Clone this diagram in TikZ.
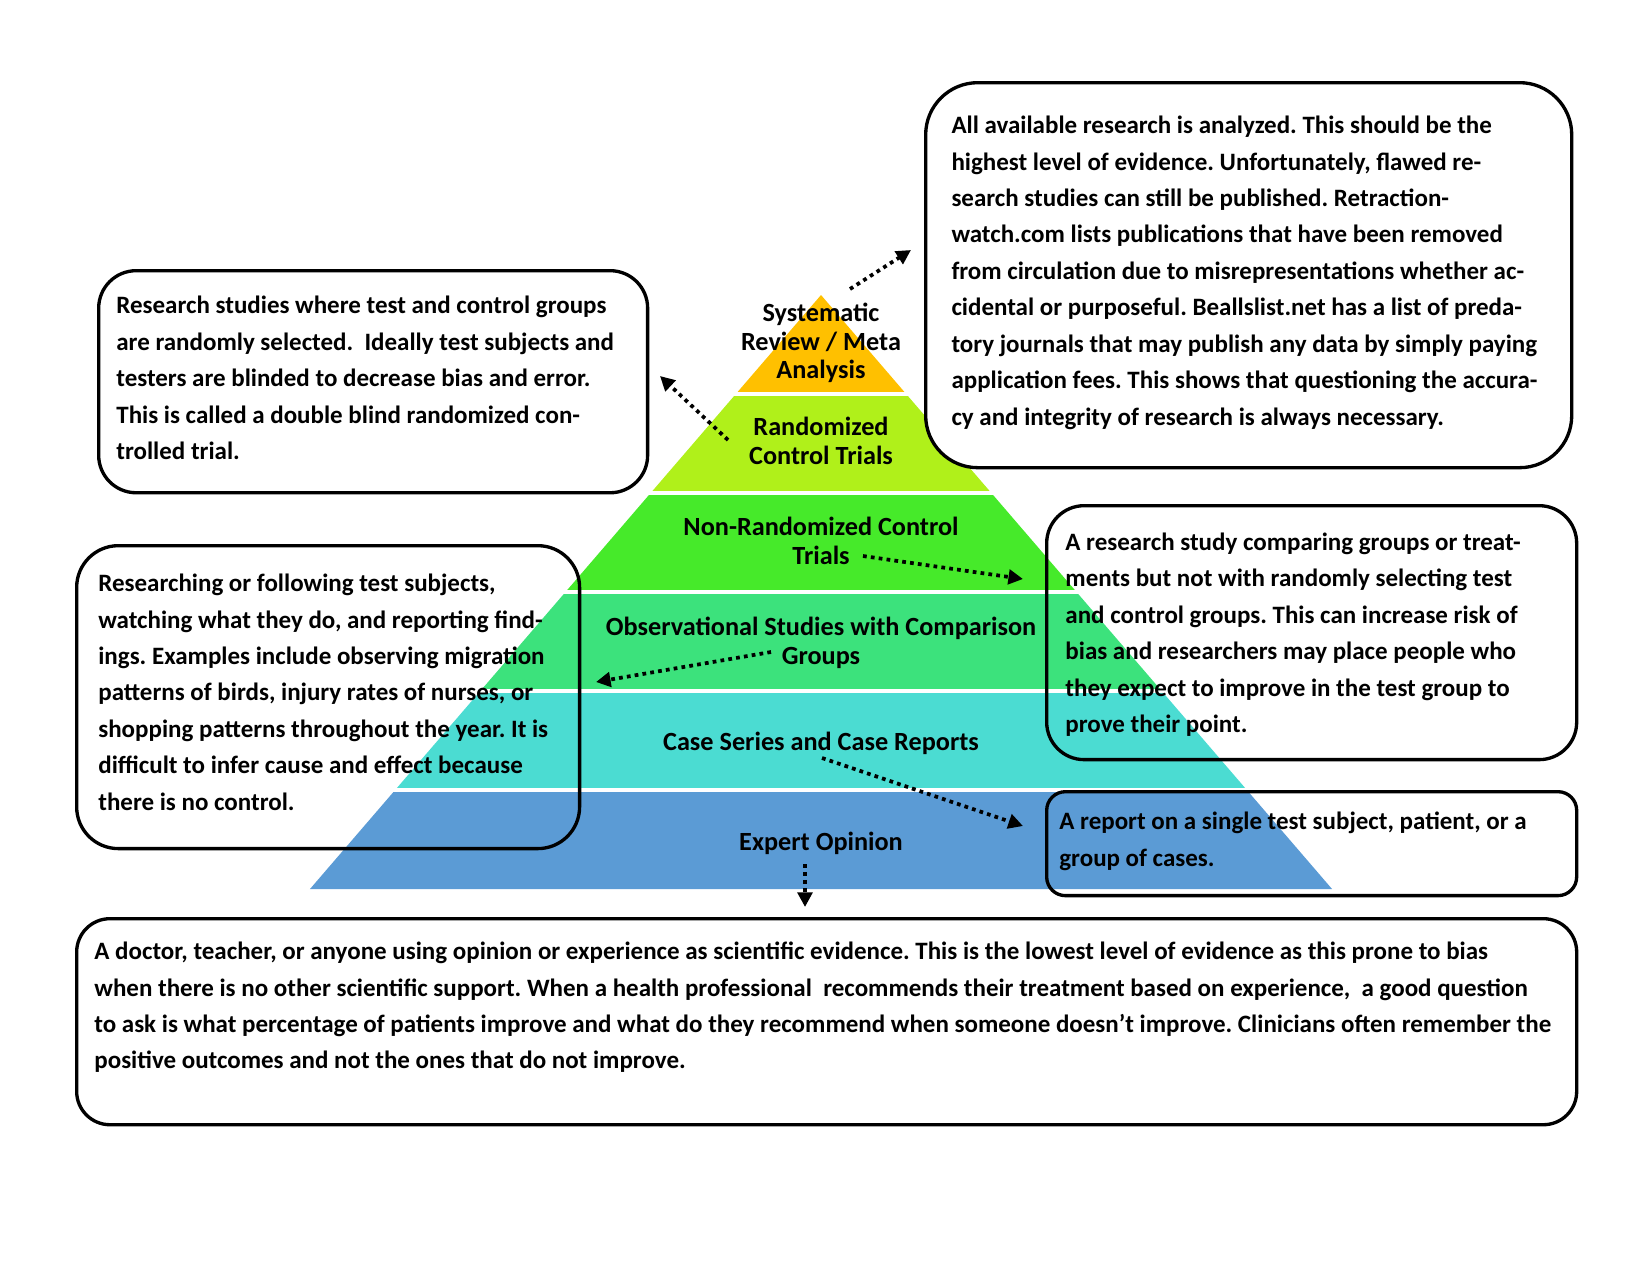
\documentclass[tikz,border=0pt]{standalone}
\usepackage{fontspec}
\setmainfont{Carlito}
\usetikzlibrary{positioning, arrows.meta}
\frenchspacing

\definecolor{lvlA}{HTML}{FFC000}
\definecolor{lvlB}{HTML}{B0F01A}
\definecolor{lvlC}{HTML}{46EA2A}
\definecolor{lvlD}{HTML}{3CE27C}
\definecolor{lvlE}{HTML}{4BDCD2}
\definecolor{lvlF}{HTML}{5B9BD5}

\begin{document}
\begin{tikzpicture}[x=0.48pt, y=-0.48pt,
    infobox/.style={draw, line width=1.6pt, rounded corners=#1, inner sep=0, anchor=north west},
    txt/.style={inner sep=0, align=left, font=\bfseries\fontsize{12}{17.5}\selectfont},
    lvl/.style={inner sep=0, align=center, anchor=north, font=\bfseries\fontsize{12.6}{13.6}\selectfont},
    dotarrow/.style={line width=1.8pt, dash pattern=on 1.8pt off 2pt, -{Triangle[length=7pt,width=7pt]}}]
    \useasboundingbox (0,0) rectangle (1650,1275);

    % pyramid
    \foreach \c [count=\i] in {lvlA,lvlB,lvlC,lvlD,lvlE,lvlF} {
      \fill[\c] ({821-85.17*(\i-1)},{295+99*(\i-1)}) -- ({821+85.17*(\i-1)},{295+99*(\i-1)})
        -- ({821+85.17*\i},{295+99*\i}) -- ({821-85.17*\i},{295+99*\i}) -- cycle;
    }
    \foreach \i in {1,...,5}
      \draw[white, line width=1.5pt] ({821-85.17*\i-6},{295+99*\i}) -- ({821+85.17*\i+6},{295+99*\i});

    % boxes
    \node[infobox=25pt, fill=white, minimum width=310.1pt, minimum height=184.8pt] (trbox) at (924,81) {};
    \node[infobox=18pt, fill=white, minimum width=263.5pt, minimum height=106.6pt] (tlbox) at (97,269) {};
    \node[infobox=20pt, minimum width=241.4pt, minimum height=145.4pt] (mlbox) at (75,544) {};
    \node[infobox=18pt, minimum width=254.4pt, minimum height=121.9pt] (mrbox) at (1045,504) {};
    \node[infobox=9pt, minimum width=254.4pt, minimum height=49.9pt] (srbox) at (1045,790) {};
    \node[infobox=16pt, minimum width=720pt, minimum height=98.9pt] (btbox) at (75,917) {};

    % levels
    \node[lvl] (sysrev) at (821,303) {Systematic\\Review / Meta\\Analysis};
    \node[lvl] (rct) at (821,417) {Randomized\\Control Trials};
    \node[lvl] (nrct) at (821,517) {Non-Randomized Control\\Trials};
    \node[lvl] (obs) at (821,617) {Observational Studies with Comparison\\Groups};
    \node[lvl] (cases) at (821,732) {Case Series and Case Reports};
    \node[lvl] (expert) at (821,832) {Expert Opinion};

    % texts
    \node[txt, below right=16.6pt and 13pt of trbox.north west] (trtext)
      {All available research is analyzed. This should be the\\
       highest level of evidence. Unfortunately, flawed re-\\
       search studies can still be published. Retraction-\\
       watch.com lists publications that have been removed\\
       from circulation due to misrepresentations whether ac-\\
       cidental or purposeful. Beallslist.net has a list of preda-\\
       tory journals that may publish any data by simply paying\\
       application fees. This shows that questioning the accura-\\
       cy and integrity of research is always necessary.};
    \node[txt, below right=12.8pt and 9.1pt of tlbox.north west] (tltext)
      {Research studies where test and control groups\\
       are randomly selected.~ Ideally test subjects and\\
       testers are blinded to decrease bias and error.\\
       This is called a double blind randomized con-\\
       trolled trial.};
    \node[txt, below right=14.2pt and 11pt of mlbox.north west] (mltext)
      {Researching or following test subjects,\\
       watching what they do, and reporting find-\\
       ings. Examples include observing migration\\
       patterns of birds, injury rates of nurses, or\\
       shopping patterns throughout the year. It is\\
       difficult to infer cause and effect because\\
       there is no control.};
    \node[txt, below right=13.7pt and 9.6pt of mrbox.north west] (mrtext)
      {A research study comparing groups or treat-\\
       ments but not with randomly selecting test\\
       and control groups. This can increase risk of\\
       bias and researchers may place people who\\
       they expect to improve in the test group to\\
       prove their point.};
    \node[txt, below right=10.4pt and 6.7pt of srbox.north west] (srtext)
      {A report on a single test subject, patient, or a\\
       group of cases.};
    \node[txt, below right=11.8pt and 9.1pt of btbox.north west] (bttext)
      {A doctor, teacher, or anyone using opinion or experience as scientific evidence. This is the lowest level of evidence as this prone to bias\\
       when there is no other scientific support. When a health professional~ recommends their treatment based on experience,~ a good question\\
       to ask is what percentage of patients improve and what do they recommend when someone doesn’t improve. Clinicians often remember the\\
       positive outcomes and not the ones that do not improve.};

    % arrows
    \coordinate (s1) at (850,289);  \coordinate (e1) at (911,250);
    \coordinate (s2) at (728,440);  \coordinate (e2) at (660,376);
    \coordinate (s3) at (863,556);  \coordinate (e3) at (1023,579);
    \coordinate (s4) at (771,652);  \coordinate (e4) at (596,682);
    \coordinate (s5) at (822,758);  \coordinate (e5) at (1023,826);
    \coordinate (s6) at (805,864);  \coordinate (e6) at (805,907);
    \foreach \k in {1,...,6}
      \draw[dotarrow] (s\k) -- (e\k);
  \end{tikzpicture}
\end{document}
